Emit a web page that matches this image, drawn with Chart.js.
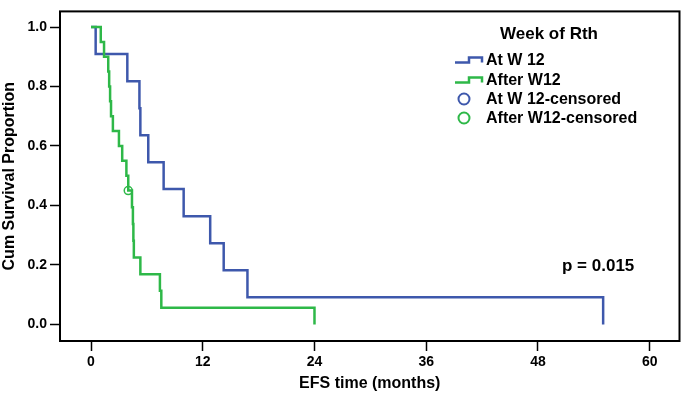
<!DOCTYPE html>
<html>
<head>
<meta charset="utf-8">
<title>EFS by week of Rth</title>
<script src="https://cdn.jsdelivr.net/npm/chart.js@4.4.1/dist/chart.umd.min.js"></script>
<style>
    html, body { margin: 0; padding: 0; background: #fff; }
    #wrap { width: 685px; height: 397px; position: relative; }
</style>
</head>
<body>
<div id="wrap"><canvas id="kmChart"></canvas></div>
<script>
// Kaplan-Meier steps (months, cum survival after each event)
const atW12Times = [0, 0.5, 3.9, 5.2, 5.3, 6.15, 7.8, 9.95, 12.8, 14.25, 16.8, 55];
const atW12Surv  = [1, 0.909, 0.818, 0.727, 0.636, 0.545, 0.455, 0.364, 0.273, 0.182, 0.091, 0];

const afterW12Times = [0, 1.05, 1.4, 1.85, 1.95, 2.05, 2.15, 2.35, 3.0, 3.35, 3.8, 4.0, 4.4, 4.5, 4.55, 4.6, 5.3, 7.4, 7.55, 24];
const afterW12Surv  = [1, 0.95, 0.90, 0.85, 0.80, 0.75, 0.70, 0.65, 0.60, 0.55, 0.50, 0.45, 0.394, 0.338, 0.281, 0.225, 0.169, 0.113, 0.056, 0];

// censored cases (only one, in the After W12 group)
const afterW12CensTimes = [4.0];
const afterW12CensSurv  = [0.45];

const xTickValues = [0, 12, 24, 36, 48, 60];
const yTickValues = [0, 0.2, 0.4, 0.6, 0.8, 1.0];

const legendTitle = 'Week of Rth';
const seriesNames = ['At W 12', 'After W12', 'At W 12-censored', 'After W12-censored'];
const pValueText = 'p = 0.015';

const BLUE = '#3e58ac';
const GREEN = '#2eb848';
const FONT = '"Liberation Sans", Arial, sans-serif';

function toPoints(times, surv) {
    return times.map((t, i) => ({ x: t, y: surv[i] }));
}

// box round the plot area
const framePlugin = {
    id: 'frame',
    beforeDatasetsDraw(chart) {
        const { ctx, chartArea: a } = chart;
        ctx.save();
        ctx.strokeStyle = '#000';
        ctx.lineWidth = 2;
        ctx.strokeRect(a.left, a.top, a.right - a.left, a.bottom - a.top);
        ctx.restore();
    }
};

// SPSS style legend + p value, drawn inside the plot
const legendPlugin = {
    id: 'kmLegend',
    afterDraw(chart) {
        const ctx = chart.ctx;
        ctx.save();
        ctx.fillStyle = '#000';
        ctx.textBaseline = 'middle';

        ctx.font = 'bold 17px ' + FONT;
        ctx.textAlign = 'center';
        ctx.fillText(legendTitle, 549, 34);

        const rows = [60, 80, 99, 118];
        const colors = [BLUE, GREEN, BLUE, GREEN];
        ctx.font = 'bold 16px ' + FONT;
        ctx.textAlign = 'left';
        rows.forEach((y, i) => {
            ctx.strokeStyle = colors[i];
            ctx.lineWidth = 2.5;
            ctx.beginPath();
            if (i < 2) {
                // little step icon
                ctx.moveTo(455, y + 2.5);
                ctx.lineTo(469, y + 2.5);
                ctx.lineTo(469, y - 2.5);
                ctx.lineTo(482, y - 2.5);
                ctx.lineTo(482, y + 2.5);
            } else {
                ctx.lineWidth = 2;
                ctx.arc(464, y, 5.5, 0, Math.PI * 2);
            }
            ctx.stroke();
            ctx.fillText(seriesNames[i], 486, y + 1);
        });

        ctx.font = 'bold 17px ' + FONT;
        ctx.fillText(pValueText, 562, 266);
        ctx.restore();
    }
};

const ctx = document.getElementById('kmChart');

new Chart(ctx, {
    type: 'line',
    data: {
        datasets: [
            {
                label: seriesNames[3],
                data: toPoints(afterW12CensTimes, afterW12CensSurv),
                showLine: false,
                pointStyle: 'circle',
                pointRadius: 4,
                pointBorderWidth: 1.5,
                pointBorderColor: GREEN,
                pointBackgroundColor: 'rgba(0,0,0,0)'
            },
            {
                label: seriesNames[1],
                data: toPoints(afterW12Times, afterW12Surv),
                stepped: 'before',
                borderColor: GREEN,
                borderWidth: 2.5,
                pointRadius: 0,
                fill: false
            },
            {
                label: seriesNames[0],
                data: toPoints(atW12Times, atW12Surv),
                stepped: 'before',
                borderColor: BLUE,
                borderWidth: 2.5,
                pointRadius: 0,
                fill: false
            }
        ]
    },
    options: {
        responsive: true,
        maintainAspectRatio: false,
        animation: false,
        layout: { padding: { top: 3, right: 5, left: 0, bottom: 0 } },
        plugins: {
            legend: { display: false },
            tooltip: { enabled: false }
        },
        scales: {
            x: {
                type: 'linear',
                min: -3.33,
                max: 63.2,
                afterBuildTicks: s => { s.ticks = xTickValues.map(v => ({ value: v })); },
                afterFit: s => { s.height = 56; },
                border: { display: false },
                grid: {
                    drawOnChartArea: false,
                    drawTicks: true,
                    tickLength: 10,
                    tickColor: '#000',
                    tickWidth: 1.5
                },
                ticks: {
                    color: '#000',
                    padding: 3,
                    maxRotation: 0,
                    font: { family: FONT, size: 14, weight: 'bold' }
                },
                title: {
                    display: true,
                    text: 'EFS time (months)',
                    color: '#000',
                    padding: { top: 0, bottom: 4 },
                    font: { family: FONT, size: 16, weight: 'bold' }
                }
            },
            y: {
                type: 'linear',
                min: -0.0558,
                max: 1.0525,
                afterBuildTicks: s => { s.ticks = yTickValues.map(v => ({ value: v })); },
                afterFit: s => { s.width = 60; },
                border: { display: false },
                grid: {
                    drawOnChartArea: false,
                    drawTicks: true,
                    tickLength: 10,
                    tickColor: '#000',
                    tickWidth: 1.5
                },
                ticks: {
                    color: '#000',
                    padding: 3,
                    callback: v => Number(v).toFixed(1),
                    font: { family: FONT, size: 14, weight: 'bold' }
                },
                title: {
                    display: true,
                    text: 'Cum Survival Proportion',
                    color: '#000',
                    padding: { top: 0, bottom: 0 },
                    font: { family: FONT, size: 16, weight: 'bold' }
                }
            }
        }
    },
    plugins: [framePlugin, legendPlugin]
});
</script>
</body>
</html>
